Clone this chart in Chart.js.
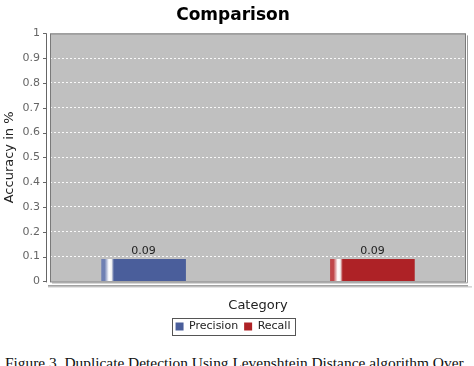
<!DOCTYPE html>
<html>
<head>
<meta charset="utf-8">
<script src="https://cdn.jsdelivr.net/npm/chart.js@4.4.1/dist/chart.umd.min.js"></script>
<style>
    body { margin: 0; background: #fff; width: 474px; height: 366px; overflow: hidden; position: relative; }
    #chart { position: absolute; left: 0; top: 0; }
    #caption {
        position: absolute; left: 5px; top: 354px; white-space: nowrap;
        font-family: 'Liberation Serif', serif; font-size: 15.4px; line-height: 17px; color: #111;
    }
</style>
</head>
<body>
<canvas id="chart" width="474" height="346"></canvas>
<div id="caption">Figure 3. Duplicate Detection Using Levenshtein Distance algorithm Over</div>
<script>
    'use strict';

    var categories = [''];
    var seriesNames = ['Precision', 'Recall'];
    var precision = [0.09];
    var recall = [0.09];
    var yTicks = [0, 0.1, 0.2, 0.3, 0.4, 0.5, 0.6, 0.7, 0.8, 0.9, 1];

    var colors = {
        precision: '#4a5e9b',
        precisionEdge: '#6f80b3',
        recall: '#ae2226',
        recallEdge: '#c0474a',
    };

    // plot background, borders and the detached axis lines
    var plotFrame = {
        id: 'plotFrame',
        beforeDatasetsDraw: function (chart) {
            var ctx = chart.ctx, a = chart.chartArea;
            ctx.save();
            ctx.strokeStyle = '#7a7a7a';
            ctx.lineWidth = 1;
            ctx.strokeRect(a.left + 0.5, a.top + 0.5, a.right - a.left - 1, a.bottom - a.top);
            ctx.strokeStyle = '#9a9a9a';
            ctx.beginPath();
            ctx.moveTo(a.right + 1.5, a.top + 2);
            ctx.lineTo(a.right + 1.5, a.bottom + 1.5);
            ctx.lineTo(a.left + 2, a.bottom + 1.5);
            ctx.stroke();
            // y axis line + tick marks
            ctx.strokeStyle = '#666';
            ctx.beginPath();
            ctx.moveTo(a.left - 3.5, a.top);
            ctx.lineTo(a.left - 3.5, a.bottom + 1);
            var ys = chart.scales.y;
            ys.ticks.forEach(function (t, i) {
                var py = Math.round(ys.getPixelForTick(i)) + 0.5;
                ctx.moveTo(a.left - 7, py);
                ctx.lineTo(a.left - 3.5, py);
            });
            // x axis line
            ctx.moveTo(a.left - 2, a.bottom + 4.5);
            ctx.lineTo(a.right + 2, a.bottom + 4.5);
            ctx.stroke();
            ctx.strokeStyle = '#bdbdbd';
            ctx.beginPath();
            ctx.moveTo(a.left - 2, a.bottom + 5.5);
            ctx.lineTo(a.right + 6, a.bottom + 5.5);
            ctx.stroke();
            ctx.restore();
        },
        beforeDraw: function (chart) {
            var a = chart.chartArea;
            chart.ctx.save();
            chart.ctx.fillStyle = '#c0c0c0';
            chart.ctx.fillRect(a.left, a.top, a.right - a.left, a.bottom - a.top);
            chart.ctx.restore();
        },
    };

    // gradient highlight near the left edge of each bar, value labels on top
    var barShade = {
        id: 'barShade',
        beforeDatasetsDraw: function (chart) {
            var ctx = chart.ctx;
            chart.data.datasets.forEach(function (ds, di) {
                chart.getDatasetMeta(di).data.forEach(function (bar) {
                    var p = bar.getProps(['x', 'width']);
                    var g = ctx.createLinearGradient(p.x - p.width / 2, 0, p.x + p.width / 2, 0);
                    g.addColorStop(0, ds.edgeColor);
                    g.addColorStop(0.04, ds.edgeColor);
                    g.addColorStop(0.09, '#ffffff');
                    g.addColorStop(0.12, '#f4f4f4');
                    g.addColorStop(0.15, ds.mainColor);
                    g.addColorStop(1, ds.mainColor);
                    bar.options.backgroundColor = g;
                });
            });
        },
        afterDatasetsDraw: function (chart) {
            var ctx = chart.ctx;
            ctx.save();
            ctx.font = '11px "DejaVu Sans"';
            ctx.fillStyle = '#222';
            ctx.textAlign = 'center';
            ctx.textBaseline = 'bottom';
            chart.data.datasets.forEach(function (ds, di) {
                chart.getDatasetMeta(di).data.forEach(function (bar, i) {
                    ctx.fillText(String(ds.data[i]), bar.x, bar.y - 2);
                });
            });
            ctx.restore();
        },
    };

    // thin border round the legend items
    var legendBox = {
        id: 'legendBox',
        afterDraw: function (chart) {
            var boxes = chart.legend.legendHitBoxes;
            if (!boxes || !boxes.length) return;
            var l = boxes[0].left - 4, r = boxes[boxes.length - 1].left + boxes[boxes.length - 1].width + 4;
            var t = boxes[0].top - 3, b = boxes[0].top + boxes[0].height + 3;
            var ctx = chart.ctx;
            ctx.save();
            ctx.strokeStyle = '#555';
            ctx.lineWidth = 1;
            ctx.strokeRect(Math.round(l) + 0.5, Math.round(t) + 0.5, Math.round(r - l), Math.round(b - t));
            ctx.restore();
        },
    };

    new Chart(document.getElementById('chart'), {
        type: 'bar',
        data: {
            labels: categories,
            datasets: [{
                label: seriesNames[0],
                data: precision,
                backgroundColor: colors.precision,
                mainColor: colors.precision,
                edgeColor: colors.precisionEdge,
            }, {
                label: seriesNames[1],
                data: recall,
                backgroundColor: colors.recall,
                mainColor: colors.recall,
                edgeColor: colors.recallEdge,
            }],
        },
        options: {
            responsive: false,
            animation: false,
            categoryPercentage: 1.1,
            barPercentage: 0.37,
            layout: { padding: { left: 0, right: 8, top: 2, bottom: 4 } },
            scales: {
                x: {
                    grid: { display: false },
                    border: { display: false },
                    ticks: { display: false },
                    title: {
                        display: true, text: 'Category', color: '#222',
                        font: { family: 'DejaVu Sans', size: 13 },
                        padding: { top: 8, bottom: 2 },
                    },
                },
                y: {
                    min: 0, max: 1,
                    afterBuildTicks: function (axis) {
                        axis.ticks = yTicks.map(function (v) { return { value: v }; });
                    },
                    afterFit: function (axis) { axis.width = 50; },
                    border: { display: false, dash: [2, 2] },
                    grid: {
                        drawTicks: false,
                        color: function (c) { return c.index === 0 || c.index === yTicks.length - 1 ? 'rgba(0,0,0,0)' : 'rgba(255,255,255,0.9)'; },
                        lineWidth: 1,
                    },
                    ticks: {
                        padding: 10, color: '#666',
                        font: { family: 'DejaVu Sans', size: 11 },
                        callback: function (v) { return String(v); },
                    },
                    title: {
                        display: true, text: 'Accuracy in %', color: '#222',
                        font: { family: 'DejaVu Sans', size: 13 },
                        padding: { top: 2, bottom: 0 },
                    },
                },
            },
            plugins: {
                title: {
                    display: true, text: 'Comparison', color: '#000',
                    font: { family: 'DejaVu Sans', size: 17, weight: 'bold' },
                    padding: { top: 3, bottom: 8 },
                },
                legend: {
                    position: 'bottom',
                    labels: {
                        boxWidth: 8, boxHeight: 8, padding: 6, color: '#222',
                        font: { family: 'DejaVu Sans', size: 11 },
                        useBorderRadius: false,
                    },
                },
                tooltip: { enabled: false },
            },
        },
        plugins: [plotFrame, barShade, legendBox],
    });
</script>
</body>
</html>
